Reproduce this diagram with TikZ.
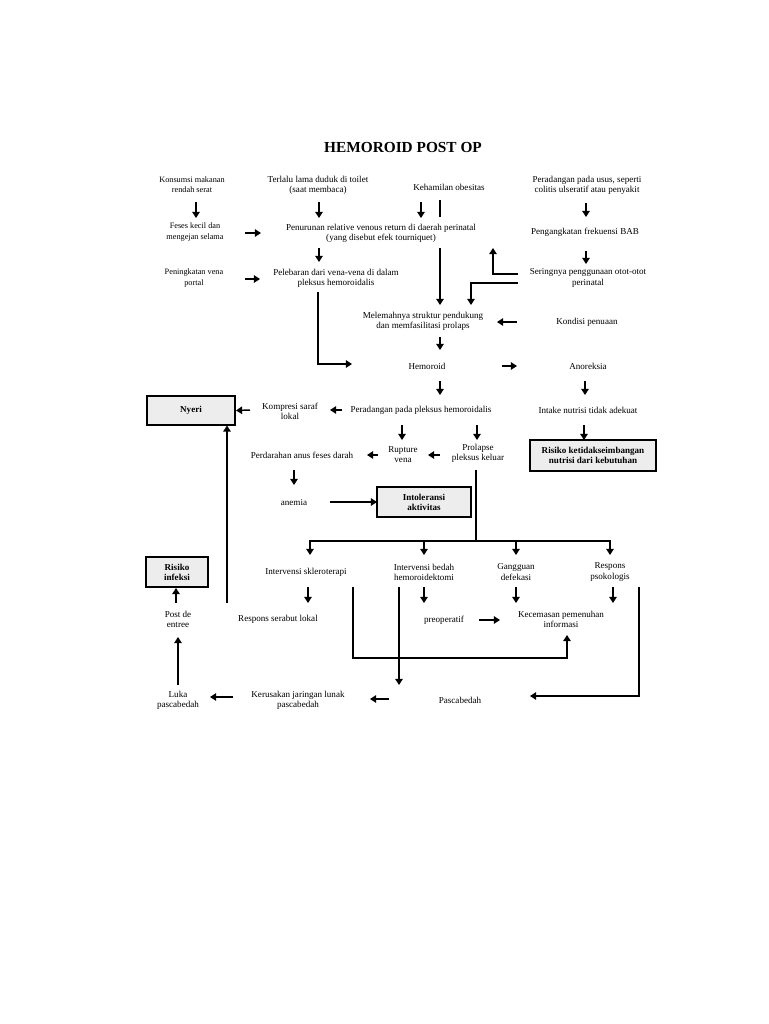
\documentclass[tikz,border=0pt]{standalone}
\usepackage{fontspec}
\setmainfont{Liberation Serif}
\usetikzlibrary{arrows.meta}
\tikzset{
	teks/.style={font=\fontsize{6.8}{7.6}\selectfont, align=center, inner sep=2pt},
	kecil/.style={teks, font=\fontsize{6.2}{7.6}\selectfont},
	kotak/.style={draw, line width=1pt, fill=black!7, font=\fontsize{6.8}{7.6}\selectfont\bfseries, align=center, inner sep=0pt},
	panah/.style={line width=1.1pt, -{Triangle[length=4.6pt,width=5.6pt]}},
	garis/.style={line width=1.1pt}
}
\begin{document}
\begin{tikzpicture}[x=0.75pt,y=-0.75pt]
		\path[fill=white] (0,0) rectangle (768,1024);
		\node[font=\fontsize{11.5}{13}\selectfont\bfseries] (judul) at (403,147) {HEMOROID POST OP};
		%Texte
		\node[kecil] (konsumsi) at (192,185) {Konsumsi makanan\\rendah serat};
		\node[teks] (terlalu) at (318,185) {Terlalu lama duduk di toilet\\(saat membaca)};
		\node[teks] (kehamilan) at (449,187) {Kehamilan obesitas};
		\node[teks] (usus) at (587,185) {Peradangan pada usus, seperti\\colitis ulseratif atau penyakit};
		\node[kecil] (feses) at (195,232) {Feses kecil dan\\mengejan selama};
		\node[teks] (penurunan) at (381,233) {Penurunan relative venous return di daerah perinatal\\(yang disebut efek tourniquet)};
		\node[teks] (frekuensi) at (585,232) {Pengangkatan frekuensi BAB};
		\node[kecil] (vena) at (194,278) {Peningkatan vena\\portal};
		\node[teks] (pelebaran) at (336,278) {Pelebaran dari vena-vena di dalam\\pleksus hemoroidalis};
		\node[teks] (sering) at (588,278) {Seringnya penggunaan otot-otot\\perinatal};
		\node[teks] (melemah) at (423,321) {Melemahnya struktur pendukung\\dan memfasilitasi prolaps};
		\node[teks] (penuaan) at (587,322) {Kondisi penuaan};
		\node[teks] (hemoroid) at (427,366) {Hemoroid};
		\node[teks] (anoreksia) at (588,366) {Anoreksia};
		\node[teks] (kompresi) at (290,411) {Kompresi saraf\\lokal};
		\node[teks] (peradangan) at (421,410) {Peradangan pada pleksus hemoroidalis};
		\node[teks] (intake) at (588,410) {Intake nutrisi tidak adekuat};
		\node[teks] (perdarahan) at (302,455) {Perdarahan anus feses darah};
		\node[teks] (rupture) at (403,455) {Rupture\\vena};
		\node[teks] (prolapse) at (478,453) {Prolapse\\pleksus keluar};
		\node[teks] (anemia) at (294,503) {anemia};
		\node[teks] (sklero) at (306,572) {Intervensi skleroterapi};
		\node[teks] (bedah) at (424,572) {Intervensi bedah\\hemoroidektomi};
		\node[teks] (defekasi) at (516,572) {Gangguan\\defekasi};
		\node[teks] (psiko) at (610,572) {Respons\\psokologis};
		\node[teks] (entree) at (178,619) {Post de\\entree};
		\node[teks] (serabut) at (278,619) {Respons serabut lokal};
		\node[teks] (preop) at (444,620) {preoperatif};
		\node[teks] (cemas) at (561,619) {Kecemasan pemenuhan\\informasi};
		\node[teks] (luka) at (178,700) {Luka\\pascabedah};
		\node[teks] (kerusakan) at (298,700) {Kerusakan jaringan lunak\\pascabedah};
		\node[teks] (pasca) at (460,700) {Pascabedah};
		%Kaesten
		\node[kotak, minimum width=66pt, minimum height=21.75pt] (nyeri) at (191,410.5) {Nyeri};
		\node[kotak, minimum width=94.5pt, minimum height=23.25pt] (nutrisi) at (593,455.5) {Risiko ketidakseimbangan\\nutrisi dari kebutuhan};
		\node[kotak, minimum width=70.5pt, minimum height=22.5pt] (intoleransi) at (424,502) {Intoleransi\\aktivitas};
		\node[kotak, minimum width=46.5pt, minimum height=22.5pt] (infeksi) at (177,572) {Risiko\\infeksi};
		%Pfeile oben
		\draw[panah] ([shift={(4,17)}]konsumsi.center) -- ([shift={(1,-14)}]feses.center);
		\draw[panah] ([shift={(1,17)}]terlalu.center) -- ([shift={(-62,-15)}]penurunan.center);
		\draw[panah] ([shift={(-28,15)}]kehamilan.center) -- ([shift={(40,-15)}]penurunan.center);
		\draw[garis] ([shift={(-9,13)}]kehamilan.center) -- ([shift={(59,-16)}]penurunan.center);
		\draw[panah] ([shift={(59,15)}]penurunan.center) -- ([shift={(17,-16)}]melemah.center);
		\draw[panah] ([shift={(-1,18)}]usus.center) -- ([shift={(1,-15)}]frekuensi.center);
		\draw[panah] ([shift={(50,1)}]feses.center) -- ([shift={(-120,0)}]penurunan.center);
		\draw[panah] ([shift={(-62,15)}]penurunan.center) -- ([shift={(-17,-16)}]pelebaran.center);
		\draw[panah] ([shift={(1,19)}]frekuensi.center) -- ([shift={(-2,-14)}]sering.center);
		\draw[panah] ([shift={(-70,-4)}]sering.center) -| ([shift={(112,15)}]penurunan.center);
		\draw[panah] ([shift={(-70,5)}]sering.center) -| ([shift={(48,-16)}]melemah.center);
		\draw[panah] ([shift={(51,1)}]vena.center) -- ([shift={(-76,1)}]pelebaran.center);
		\draw[panah] ([shift={(-18,14)}]pelebaran.center) |- ([shift={(-75,-2)}]hemoroid.center);
		\draw[panah] ([shift={(17,16)}]melemah.center) -- ([shift={(13,-16)}]hemoroid.center);
		\draw[panah] ([shift={(-70,0)}]penuaan.center) -- ([shift={(74,1)}]melemah.center);
		%Mitte
		\draw[panah] ([shift={(75,0)}]hemoroid.center) -- ([shift={(-71,0)}]anoreksia.center);
		\draw[panah] ([shift={(13,15)}]hemoroid.center) -- ([shift={(19,-15)}]peradangan.center);
		\draw[panah] ([shift={(-3,15)}]anoreksia.center) -- ([shift={(-3,-15)}]intake.center);
		\draw[panah] ([shift={(-79,0)}]peradangan.center) -- ([shift={(40,-1)}]kompresi.center);
		\draw[panah] ([shift={(-40,-1)}]kompresi.center) -- ([shift={(45,0)}]nyeri.center);
		\draw[panah] ([shift={(-19,15)}]peradangan.center) -- ([shift={(-1,-15)}]rupture.center);
		\draw[panah] ([shift={(56,15)}]peradangan.center) -- ([shift={(-1,-13)}]prolapse.center);
		\draw[panah] ([shift={(-4,15)}]intake.center) -- ([shift={(-9,-15.5)}]nutrisi.center);
		\draw[panah] ([shift={(-25,0)}]rupture.center) -- ([shift={(65,0)}]perdarahan.center);
		\draw[panah] ([shift={(-38,2)}]prolapse.center) -- ([shift={(25,0)}]rupture.center);
		\draw[panah] ([shift={(-8,15)}]perdarahan.center) -- ([shift={(0,-18)}]anemia.center);
		\draw[panah] ([shift={(36,-1)}]anemia.center) -- ([shift={(-47,0)}]intoleransi.center);
		%Verzweigung
		\coordinate (cabang) at ([shift={(-2,88)}]prolapse.center);
		\draw[garis] ([shift={(-2,17)}]prolapse.center) -- (cabang);
		\foreach \n/\dx in {sklero/4,bedah/0,defekasi/0,psiko/0}
		{
			\draw[panah] (cabang) -| ([shift={(\dx,-17)}]\n.center);
		}
		%Pfeile unten
		\draw[panah] ([shift={(-2,-16)}]entree.center) -- ([shift={(-1,16)}]infeksi.center);
		\draw[panah] ([shift={(2,15)}]sklero.center) -- ([shift={(30,-16)}]serabut.center);
		\draw[panah] ([shift={(47,15)}]sklero.center) |- ([shift={(6,39)}]cemas.center) -- ([shift={(6,16)}]cemas.center);
		\draw[panah] ([shift={(-25,15)}]bedah.center) -- ([shift={(-61,-15)}]pasca.center);
		\draw[panah] ([shift={(0,15)}]bedah.center) -- ([shift={(-20,-17)}]preop.center);
		\draw[panah] ([shift={(0,15)}]defekasi.center) -- ([shift={(-45,-16)}]cemas.center);
		\draw[panah] ([shift={(3,15)}]psiko.center) -- ([shift={(52,-16)}]cemas.center);
		\draw[panah] ([shift={(29,15)}]psiko.center) |- ([shift={(70,-4)}]pasca.center);
		\draw[panah] ([shift={(35,0)}]preop.center) -- ([shift={(-61,1)}]cemas.center);
		\draw[panah] ([shift={(0,-15)}]luka.center) -- ([shift={(0,18)}]entree.center);
		\draw[panah] ([shift={(-51,-16)}]serabut.center) -- ([shift={(36,15)}]nyeri.center);
		\draw[panah] ([shift={(-65,-3)}]kerusakan.center) -- ([shift={(32,-3)}]luka.center);
		\draw[panah] ([shift={(-71,-1)}]pasca.center) -- ([shift={(72,-1)}]kerusakan.center);
	\end{tikzpicture}
\end{document}
